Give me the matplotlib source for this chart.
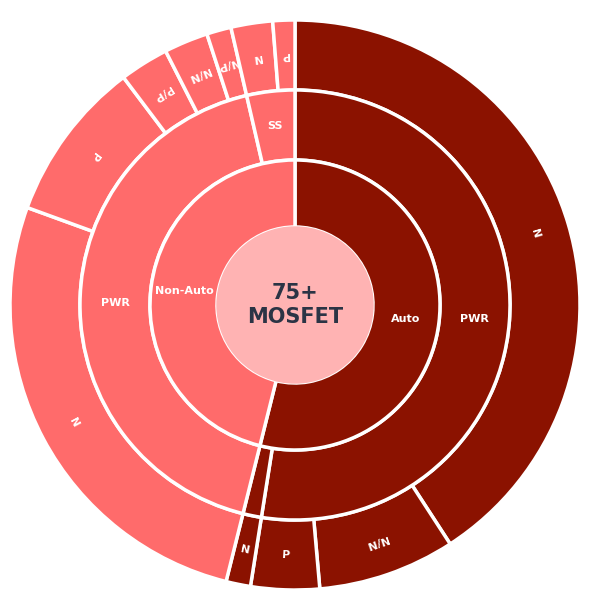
import numpy as np
import matplotlib.pyplot as plt

# inner ring
inner_labels = ['Auto', 'Non-Auto']
inner_vals = [194, 166]
# middle ring
mid_labels = ['PWR', '', 'PWR', 'SS']
mid_vals = [189, 5, 153, 13]
mid_parent = [0, 0, 1, 1]
# outer ring
outer_labels = ['N', 'N/N', 'P', 'N', 'N', 'P', 'P/P', 'N/N', 'N/P', 'N', 'P']
outer_vals = [147, 28, 14, 5, 96, 33, 10, 9, 5, 8.5, 4.5]
outer_parent = [0, 0, 0, 0, 1, 1, 1, 1, 1, 1, 1]

colors = ['#8B1200', '#FF6B6B']

fig = plt.figure(figsize=(6, 6), dpi=100)
ax = fig.add_axes([0, 0, 1, 1])

wp = dict(edgecolor='white', linewidth=2.5)


def ring(vals, parents, r, w, labels, rotate):
    cols = [colors[p] for p in parents]
    wedges, _ = ax.pie(vals, radius=r, colors=cols, startangle=90, counterclock=False,
                       wedgeprops=dict(width=w, **wp))
    for wd, lab in zip(wedges, labels):
        if not lab:
            continue
        a = np.deg2rad((wd.theta1 + wd.theta2) / 2)
        rr = r - w / 2
        rot = 0
        if rotate:
            rot = np.rad2deg(a) - 90
            if np.cos(a) < 0:
                rot += 180
            rot = (rot + 180) % 360 - 180
        ax.text(rr * np.cos(a), rr * np.sin(a), lab, ha='center', va='center',
                rotation=rot, color='white', fontsize=8, fontweight='bold')


ring(outer_vals, outer_parent, 285, 70, outer_labels, True)
ring(mid_vals, mid_parent, 215, 70, mid_labels, False)
ring(inner_vals, [0, 1], 145, 67, inner_labels, False)

ax.add_patch(plt.Circle((0, 0), 78, color='#FFB3B3', zorder=5))
ax.text(0, 0, '75+\nMOSFET', ha='center', va='center', fontsize=15, fontweight='bold',
        color='#2B3445', zorder=6, linespacing=1.2)

ax.set_xlim(-295, 305)
ax.set_ylim(-295, 305)
ax.set_aspect('equal')
ax.axis('off')

fig.savefig('out.png')
